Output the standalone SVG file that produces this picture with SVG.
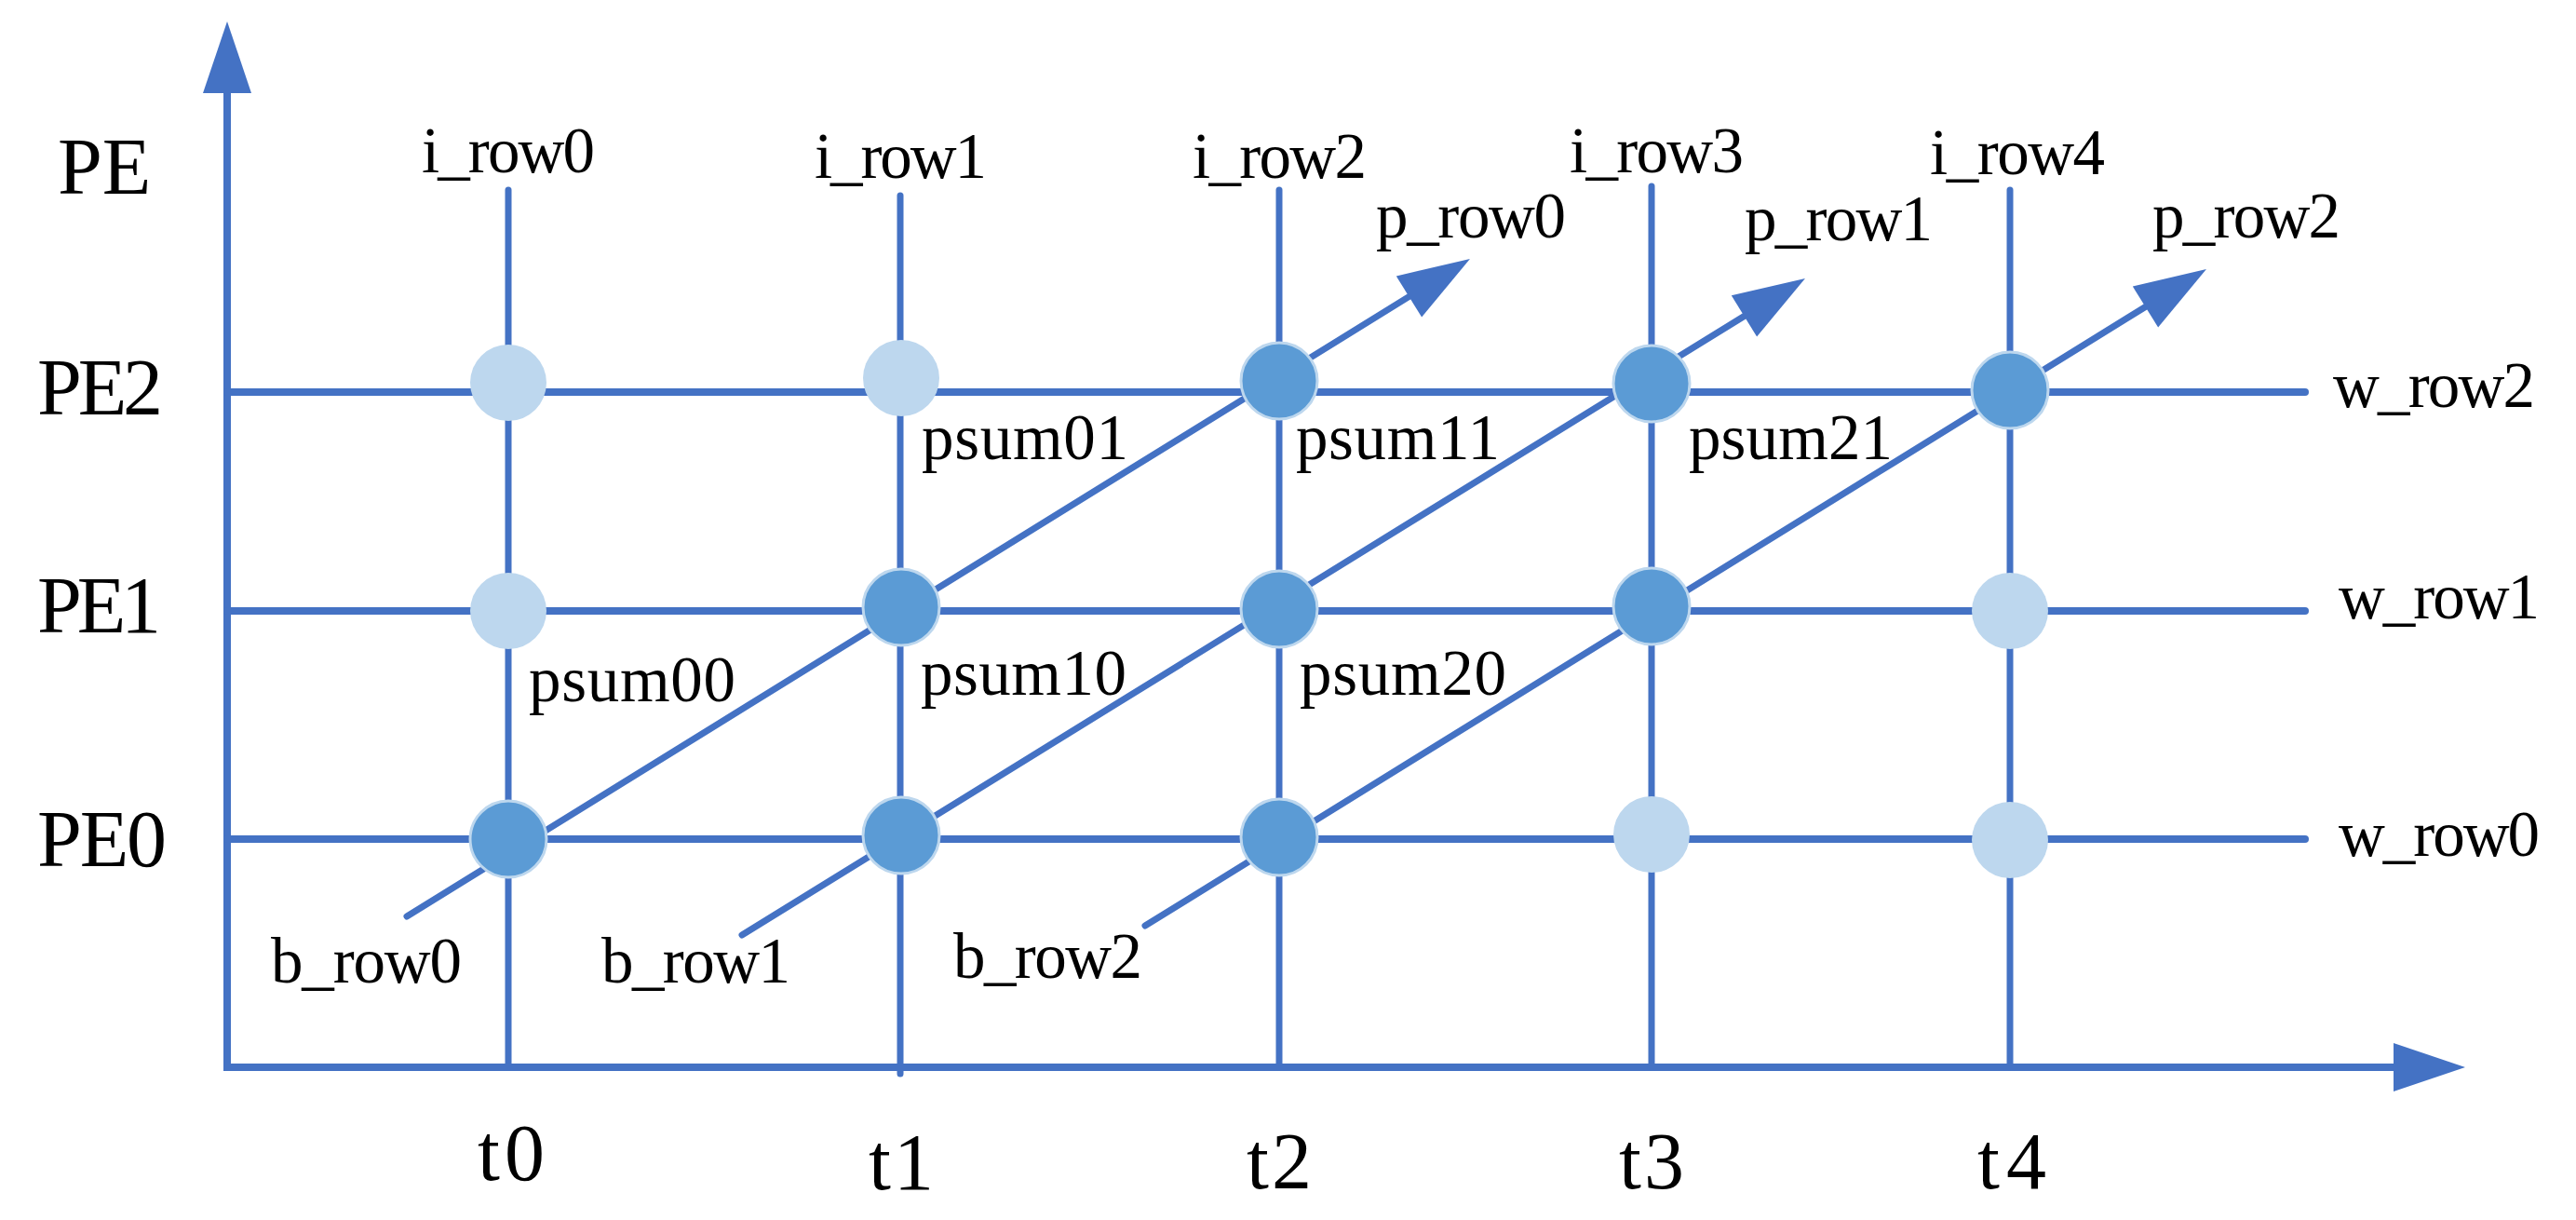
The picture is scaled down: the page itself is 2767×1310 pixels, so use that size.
<svg xmlns="http://www.w3.org/2000/svg" width="2767" height="1310" viewBox="0 0 2767 1310">
<style>
.ln{stroke:#4472C4;stroke-width:8;fill:none;stroke-linecap:round}
.col{stroke:#4472C4;stroke-width:7;fill:none;stroke-linecap:round}
.dg{stroke:#4472C4;stroke-width:7;fill:none;stroke-linecap:round}
.ax{stroke:#4472C4;stroke-width:8;fill:none}
.dk{fill:#5B9BD5;stroke:#BDD7EE;stroke-width:3}
.lt{fill:#BDD7EE;stroke:none}
text{font-family:"Liberation Serif","Times New Roman",serif;fill:#000}
.pe{font-size:86px}
.t{font-size:86px;text-anchor:middle}
.s{font-size:69px}
</style>
<defs>
<marker id="arr" markerUnits="userSpaceOnUse" markerWidth="77" markerHeight="52" refX="62" refY="26" orient="auto" overflow="visible">
<path d="M0,0 L77,26 L0,52 Z" fill="#4472C4"/>
</marker>
</defs>
<g id="connectors">
<line class="ax" x1="244" y1="1146" x2="244" y2="38" marker-end="url(#arr)"/>
<line class="ax" x1="240" y1="1146" x2="2633" y2="1146" marker-end="url(#arr)"/>
<line class="ln" x1="244" y1="421" x2="2476" y2="421"/>
<line class="ln" x1="244" y1="656" x2="2476" y2="656"/>
<line class="ln" x1="244" y1="901" x2="2476" y2="901"/>
<line class="col" x1="546" y1="204" x2="546" y2="1146"/>
<line class="col" x1="967" y1="210" x2="967" y2="1153"/>
<line class="col" x1="1374" y1="204" x2="1374" y2="1146"/>
<line class="col" x1="1774" y1="200" x2="1774" y2="1146"/>
<line class="col" x1="2159" y1="204" x2="2159" y2="1146"/>
<line class="dg" x1="437" y1="984" x2="1566.2" y2="285.9" marker-end="url(#arr)"/>
<line class="dg" x1="797" y1="1004" x2="1926.2" y2="306.9" marker-end="url(#arr)"/>
<line class="dg" x1="1230" y1="994" x2="2357.2" y2="296.9" marker-end="url(#arr)"/>
</g>
<g id="pe-t0-2"><circle class="lt" cx="546" cy="411" r="41"/></g>
<g id="pe-t1-2"><circle class="lt" cx="968" cy="406" r="41"/></g>
<g id="pe-t2-2"><circle class="dk" cx="1374" cy="409" r="41"/></g>
<g id="pe-t3-2"><circle class="dk" cx="1774" cy="412" r="41"/></g>
<g id="pe-t4-2"><circle class="dk" cx="2159" cy="419" r="41"/></g>
<g id="pe-t0-1"><circle class="lt" cx="546" cy="656" r="41"/></g>
<g id="pe-t1-1"><circle class="dk" cx="968" cy="652" r="41"/></g>
<g id="pe-t2-1"><circle class="dk" cx="1374" cy="654" r="41"/></g>
<g id="pe-t3-1"><circle class="dk" cx="1774" cy="651" r="41"/></g>
<g id="pe-t4-1"><circle class="lt" cx="2159" cy="656" r="41"/></g>
<g id="pe-t0-0"><circle class="dk" cx="546" cy="901" r="41"/></g>
<g id="pe-t1-0"><circle class="dk" cx="968" cy="897" r="41"/></g>
<g id="pe-t2-0"><circle class="dk" cx="1374" cy="899" r="41"/></g>
<g id="pe-t3-0"><circle class="lt" cx="1774" cy="896" r="41"/></g>
<g id="pe-t4-0"><circle class="lt" cx="2159" cy="902" r="41"/></g>
<g id="labels">
<text class="pe" x="62" y="208">PE</text>
<text class="pe" x="40" y="445" textLength="135">PE2</text>
<text class="pe" x="40" y="679" textLength="133">PE1</text>
<text class="pe" x="40" y="930" textLength="139">PE0</text>
<text class="t" x="549" y="1267" textLength="72">t0</text>
<text class="t" x="968" y="1277" textLength="70">t1</text>
<text class="t" x="1374" y="1276" textLength="70">t2</text>
<text class="t" x="1774" y="1276" textLength="70">t3</text>
<text class="t" x="2161" y="1276" textLength="74">t4</text>
<text class="s" x="453" y="185" textLength="186">i_row0</text>
<text class="s" x="875" y="191" textLength="185">i_row1</text>
<text class="s" x="1281" y="191" textLength="187">i_row2</text>
<text class="s" x="1686" y="185" textLength="187">i_row3</text>
<text class="s" x="2073" y="187" textLength="188">i_row4</text>
<text class="s" x="1478" y="255" textLength="204">p_row0</text>
<text class="s" x="1874" y="258" textLength="202">p_row1</text>
<text class="s" x="2312" y="255" textLength="202">p_row2</text>
<text class="s" x="2506" y="437" textLength="217">w_row2</text>
<text class="s" x="2512" y="664" textLength="216">w_row1</text>
<text class="s" x="2512" y="919" textLength="216">w_row0</text>
<text class="s" x="568" y="753" textLength="222">psum00</text>
<text class="s" x="990" y="493" textLength="222">psum01</text>
<text class="s" x="989" y="746" textLength="221">psum10</text>
<text class="s" x="1392" y="493" textLength="219">psum11</text>
<text class="s" x="1396" y="746" textLength="222">psum20</text>
<text class="s" x="1814" y="493" textLength="219">psum21</text>
<text class="s" x="291" y="1055" textLength="205">b_row0</text>
<text class="s" x="646" y="1055" textLength="203">b_row1</text>
<text class="s" x="1024" y="1050" textLength="203">b_row2</text>
</g>
</svg>
